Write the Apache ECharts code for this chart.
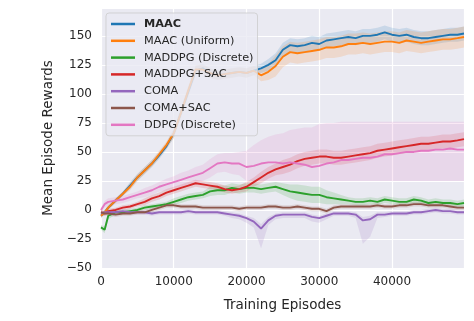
<!DOCTYPE html>
<html>
<head>
<meta charset="utf-8">
<script src="https://cdn.jsdelivr.net/npm/echarts@6/dist/echarts.min.js"></script>
<style>html,body{margin:0;padding:0;background:#fff;}#c{width:474px;height:321px;}</style>
</head>
<body>
<div id="c"></div>
<script>
// Training episodes (x)
const xs = [0, 500,
  1000, 2000, 3000, 4000, 5000, 6000, 7000, 8000, 9000,
  10000, 11000, 12000, 13000, 14000, 15000, 16000, 17000, 18000, 19000,
  20000, 21000, 22000, 23000, 24000, 25000, 26000, 27000, 28000, 29000,
  30000, 31000, 32000, 33000, 34000, 35000, 36000, 37000, 38000, 39000,
  40000, 41000, 42000, 43000, 44000, 45000, 46000, 47000, 48000, 49000,
  49900];

const seriesNames = ['MAAC', 'MAAC (Uniform)', 'MADDPG (Discrete)', 'MADDPG+SAC', 'COMA', 'COMA+SAC', 'DDPG (Discrete)'];
const colors = ['#1f77b4', '#ff7f0e', '#2ca02c', '#d62728', '#9467bd', '#8c564b', '#e377c2'];

const maac = [-5, -2,
  2, 8, 14, 21, 28, 34, 40, 47, 55,
  66, 84, 102, 120, 122, 118, 116, 117, 118, 119,
  118, 120, 122, 125, 129, 138, 142, 141, 142, 144,
  143, 146, 147, 148, 149, 148, 150, 150, 151, 153,
  151, 150, 151, 149, 148, 148, 149, 150, 151, 151,
  152];
const maacUniform = [-5, -2,
  2, 8, 14, 20, 28, 34, 40, 48, 56,
  66, 84, 103, 121, 121, 118, 116, 117, 118, 119,
  118, 120, 116, 119, 124, 132, 136, 135, 136, 137,
  138, 140, 140, 141, 143, 143, 144, 143, 144, 145,
  145, 144, 146, 145, 144, 145, 146, 147, 147, 148,
  149];
const maddpgDiscrete = [-15, -17,
  -5, -2, -2, -1, 0, 2, 3, 4, 5,
  7, 9, 11, 12, 13, 16, 17, 17, 19, 18,
  19, 19, 18, 19, 20, 18, 16, 15, 14, 13,
  13, 11, 10, 9, 8, 7, 7, 8, 7, 9,
  8, 7, 7, 9, 8, 6, 7, 6, 6, 5,
  6];
const maddpgSac = [-2, -3,
  -1, 0, 2, 3, 5, 7, 10, 12, 15,
  17, 19, 21, 23, 22, 21, 20, 18, 17, 18,
  20, 24, 28, 32, 35, 37, 39, 42, 44, 45,
  46, 46, 45, 45, 46, 47, 48, 49, 51, 52,
  53, 54, 55, 56, 57, 57, 58, 59, 59, 60,
  61];
const coma = [-3, -2,
  -2, -2, -1, -2, -2, -2, -3, -2, -2,
  -2, -2, -1, -2, -2, -2, -2, -3, -4, -5,
  -7, -10, -16, -9, -5, -4, -4, -4, -4, -6,
  -7, -5, -3, -3, -3, -4, -9, -8, -4, -4,
  -3, -3, -3, -2, -2, -1, 0, -1, -1, -2,
  -2];
const comaSac = [-2, -3,
  -3, -4, -3, -3, -2, -2, 0, 2, 4,
  4, 3, 3, 3, 2, 2, 2, 2, 2, 1,
  2, 2, 2, 3, 3, 2, 2, 3, 2, 1,
  1, -1, 2, 3, 3, 3, 3, 3, 4, 3,
  3, 4, 4, 5, 5, 4, 4, 4, 3, 2,
  2];
const ddpgDiscrete = [0, 5,
  7, 8, 9, 11, 13, 15, 17, 20, 22,
  24, 26, 28, 30, 32, 36, 40, 41, 40, 40,
  37, 38, 40, 41, 41, 40, 41, 40, 39, 37,
  38, 40, 41, 43, 43, 44, 45, 45, 46, 48,
  48, 49, 50, 50, 51, 51, 52, 52, 53, 52,
  52];

// Shaded spread (below / above each mean curve)
const maacSpread = [2, 2,
  2, 2, 2, 3, 3, 3, 3, 3, 3,
  4, 4, 4, 4, 4, 4, 4, 4, 4, 4,
  4, 4, 4, 5, 6, 6, 6, 6, 6, 6,
  6, 6, 6, 6, 6, 6, 6, 6, 6, 6,
  6, 6, 6, 6, 6, 6, 6, 6, 6, 6,
  6];
const maacUniformSpread = [2, 2,
  2, 2, 2, 3, 3, 3, 3, 3, 3,
  4, 4, 4, 4, 4, 4, 4, 4, 4, 4,
  4, 4, 5, 7, 9, 9, 9, 9, 9, 9,
  9, 9, 9, 9, 9, 9, 9, 9, 9, 9,
  9, 9, 9, 9, 9, 9, 9, 9, 9, 9,
  9];
const maddpgDiscreteSpread = [2, 3,
  3, 2, 2, 2, 2, 2, 2, 2, 2,
  3, 3, 3, 3, 3, 4, 4, 4, 4, 4,
  4, 4, 4, 4, 4, 5, 6, 7, 7, 7,
  7, 6, 5, 4, 3, 3, 3, 3, 3, 3,
  3, 3, 3, 3, 3, 3, 3, 3, 3, 3,
  3];
const maddpgSacSpread = [2, 2,
  2, 2, 2, 2, 2, 3, 3, 3, 3,
  3, 3, 3, 3, 3, 3, 3, 3, 3, 3,
  4, 4, 5, 5, 5, 6, 6, 6, 6, 6,
  6, 6, 6, 6, 6, 6, 6, 6, 6, 6,
  6, 6, 6, 6, 6, 6, 6, 6, 6, 6,
  6];
const comaDown = [2, 2,
  2, 2, 2, 2, 2, 2, 2, 2, 2,
  2, 2, 2, 2, 2, 2, 2, 2, 3, 3,
  4, 5, 17, 4, 3, 3, 3, 3, 3, 4,
  4, 3, 2, 2, 2, 3, 20, 15, 3, 2,
  2, 2, 2, 2, 2, 2, 2, 2, 2, 2,
  2];
const comaUp = [2, 2,
  2, 2, 2, 2, 2, 2, 2, 2, 2,
  2, 2, 2, 2, 2, 2, 2, 2, 2, 2,
  2, 3, 4, 3, 2, 2, 2, 2, 2, 2,
  2, 2, 2, 2, 2, 2, 3, 3, 2, 2,
  2, 2, 2, 2, 2, 2, 2, 2, 2, 2,
  2];
const comaSacSpread = [2, 2,
  2, 2, 2, 2, 2, 2, 2, 2, 2,
  2, 2, 2, 2, 2, 2, 2, 2, 2, 2,
  2, 2, 2, 2, 2, 2, 2, 2, 2, 2,
  2, 2, 2, 2, 2, 2, 2, 2, 2, 2,
  2, 2, 2, 2, 2, 2, 2, 2, 2, 2,
  2];
const ddpgDown = [2, 3,
  3, 3, 3, 3, 3, 4, 4, 4, 5,
  5, 6, 6, 7, 7, 8, 8, 8, 9, 10,
  12, 13, 15, 16, 16, 15, 16, 15, 14, 12,
  13, 15, 16, 18, 18, 19, 20, 20, 21, 23,
  23, 24, 25, 25, 26, 26, 27, 27, 28, 27,
  27];
const ddpgUp = [2, 3,
  3, 3, 3, 3, 3, 4, 4, 4, 5,
  5, 6, 6, 7, 7, 8, 8, 8, 9, 10,
  14, 18, 20, 22, 24, 26, 28, 30, 32, 34,
  36, 35, 34, 33, 33, 32, 31, 31, 30, 28,
  28, 27, 26, 26, 25, 25, 24, 24, 23, 24,
  24];

const yTickStep = 25;
const xTickStep = 10000;

const means = [maac, maacUniform, maddpgDiscrete, maddpgSac, coma, comaSac, ddpgDiscrete];
const downs = [maacSpread, maacUniformSpread, maddpgDiscreteSpread, maddpgSacSpread, comaDown, comaSacSpread, ddpgDown];
const ups = [maacSpread, maacUniformSpread, maddpgDiscreteSpread, maddpgSacSpread, comaUp, comaSacSpread, ddpgUp];

const FONT = 'DejaVu Sans';
const TXT = '#262626';

function bandSeries(i) {
  const m = means[i], d = downs[i], u = ups[i];
  const rows = xs.map((x, k) => [x, m[k] - d[k], m[k] + u[k]]);
  return {
    type: 'custom',
    name: seriesNames[i] + ' band',
    silent: true,
    z: 1,
    data: rows,
    encode: { x: 0, y: [1, 2] },
    renderItem: function (params, api) {
      if (params.dataIndex !== 0) return null;
      const upper = rows.map(r => api.coord([r[0], r[2]]));
      const lower = rows.map(r => api.coord([r[0], r[1]])).reverse();
      return {
        type: 'polygon',
        shape: { points: upper.concat(lower) },
        style: { fill: colors[i], opacity: 0.16 }
      };
    }
  };
}

function lineSeries(i) {
  return {
    type: 'line',
    name: seriesNames[i],
    data: xs.map((x, k) => [x, means[i][k]]),
    color: colors[i],
    showSymbol: false,
    symbol: 'none',
    z: 3,
    lineStyle: { width: 1.9, color: colors[i] },
    itemStyle: { color: colors[i] },
    animation: false
  };
}

const series = [];
for (let i = 0; i < seriesNames.length; i++) series.push(bandSeries(i));
for (let i = 0; i < seriesNames.length; i++) series.push(lineSeries(i));

const minus = v => (v < 0 ? '\u2212' + Math.abs(v) : String(v));

const chart = echarts.init(document.getElementById('c'), null, { renderer: 'canvas' });
chart.setOption({
  animation: false,
  backgroundColor: '#ffffff',
  grid: { left: 101, right: 10, top: 8, bottom: 53, show: true, backgroundColor: '#EAEAF2', borderWidth: 0 },
  xAxis: {
    type: 'value', min: 0, max: 49900, interval: xTickStep,
    name: 'Training Episodes', nameLocation: 'middle', nameGap: 30,
    nameTextStyle: { fontFamily: FONT, fontSize: 13.5, color: TXT },
    axisLine: { show: false }, axisTick: { show: false },
    axisLabel: { fontFamily: FONT, fontSize: 12, color: TXT, margin: 8, showMaxLabel: false, formatter: minus },
    splitLine: { show: true, lineStyle: { color: '#ffffff', width: 1.2 } }
  },
  yAxis: {
    type: 'value', min: -50, max: 174, interval: yTickStep,
    name: 'Mean Episode Rewards', nameLocation: 'middle', nameGap: 46,
    nameTextStyle: { fontFamily: FONT, fontSize: 13.5, color: TXT },
    axisLine: { show: false }, axisTick: { show: false },
    axisLabel: { fontFamily: FONT, fontSize: 12, color: TXT, margin: 9, showMaxLabel: false, formatter: minus },
    splitLine: { show: true, lineStyle: { color: '#ffffff', width: 1.2 } }
  },
  legend: {
    orient: 'vertical', left: 106, top: 13,
    padding: [4, 4, 4, 5],
    itemWidth: 24, itemHeight: 2.5, itemGap: 2.8, icon: 'rect',
    backgroundColor: 'rgba(234,234,242,0.8)',
    borderColor: 'rgba(204,204,204,0.8)', borderWidth: 1, borderRadius: 3,
    textStyle: { fontFamily: FONT, fontSize: 11.3, color: TXT, lineHeight: 14, padding: [0, 0, 0, 4] },
    data: [
      { name: 'MAAC', textStyle: { fontWeight: 'bold' } },
      'MAAC (Uniform)', 'MADDPG (Discrete)', 'MADDPG+SAC', 'COMA', 'COMA+SAC', 'DDPG (Discrete)'
    ]
  },
  series: series
});
</script>
</body>
</html>
